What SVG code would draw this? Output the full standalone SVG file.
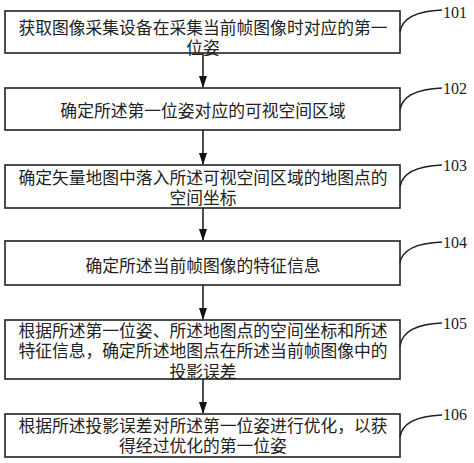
<svg xmlns="http://www.w3.org/2000/svg" width="474" height="463" viewBox="0 0 474 463">
<style>
.box{fill:#fff;stroke:#222;stroke-width:1.6}
.t{font-family:"Noto Sans CJK SC","Noto Sans CJK JP",sans-serif;font-size:16.8px;fill:#222;text-anchor:middle;dominant-baseline:central}
.lbl{font-family:"Liberation Serif",serif;font-size:16px;fill:#222;dominant-baseline:central}
.c{fill:none;stroke:#222;stroke-width:1.4}
.ln{stroke:#222;stroke-width:1.6}
</style>
<defs>
<marker id="ah" markerWidth="8" markerHeight="12" refX="4" refY="12" orient="auto-start-reverse" markerUnits="userSpaceOnUse" viewBox="0 0 8 12">
<path d="M0,0 L8,0 L4,12 Z" fill="#111"/>
</marker>
</defs>
<rect width="474" height="463" fill="#fff"/>
<g id="connectors">
<line class="ln" x1="203" y1="53" x2="203" y2="87"/>
<path d="M199,76 L207,76 L203,88 Z" fill="#111"/>
<line class="ln" x1="203" y1="130" x2="203" y2="164"/>
<path d="M199,153 L207,153 L203,165 Z" fill="#111"/>
<line class="ln" x1="203" y1="208" x2="203" y2="240"/>
<path d="M199,229 L207,229 L203,241 Z" fill="#111"/>
<line class="ln" x1="203" y1="285" x2="203" y2="319"/>
<path d="M199,308 L207,308 L203,320 Z" fill="#111"/>
<line class="ln" x1="203" y1="379" x2="203" y2="413"/>
<path d="M199,402 L207,402 L203,414 Z" fill="#111"/>
</g>
<g id="n101">
<rect class="box" x="5" y="11" width="395" height="42"/>
<text class="t" x="203" y="26.5">获取图像采集设备在采集当前帧图像时对应的第一</text>
<text class="t" x="203" y="47">位姿</text>
<path class="c" d="M400,32 C402,18 418,11 442,10"/>
<text class="lbl" x="443" y="12">101</text>
</g>
<g id="n102">
<rect class="box" x="5" y="88" width="395" height="42"/>
<text class="t" x="203" y="110">确定所述第一位姿对应的可视空间区域</text>
<path class="c" d="M400,110 C402,96 418,89 442,88"/>
<text class="lbl" x="443" y="88">102</text>
</g>
<g id="n103">
<rect class="box" x="5" y="165" width="395" height="43"/>
<text class="t" x="203" y="176.5">确定矢量地图中落入所述可视空间区域的地图点的</text>
<text class="t" x="203" y="197">空间坐标</text>
<path class="c" d="M400,187 C402,173 418,166 442,165"/>
<text class="lbl" x="443" y="165">103</text>
</g>
<g id="n104">
<rect class="box" x="5" y="241" width="395" height="44"/>
<text class="t" x="203" y="265">确定所述当前帧图像的特征信息</text>
<path class="c" d="M400,263 C402,249 418,243 442,242"/>
<text class="lbl" x="443" y="242">104</text>
</g>
<g id="n105">
<rect class="box" x="5" y="320" width="395" height="59"/>
<text class="t" x="203" y="330">根据所述第一位姿、所述地图点的空间坐标和所述</text>
<text class="t" x="203" y="350">特征信息，确定所述地图点在所述当前帧图像中的</text>
<text class="t" x="203" y="370.5">投影误差</text>
<path class="c" d="M400,346 C402,331 418,324 442,323"/>
<text class="lbl" x="443" y="323">105</text>
</g>
<g id="n106">
<rect class="box" x="5" y="414" width="395" height="43"/>
<text class="t" x="203" y="425">根据所述投影误差对所述第一位姿进行优化，以获</text>
<text class="t" x="203" y="445">得经过优化的第一位姿</text>
<path class="c" d="M400,437 C402,423 418,416 442,415"/>
<text class="lbl" x="443" y="414">106</text>
</g>
</svg>
